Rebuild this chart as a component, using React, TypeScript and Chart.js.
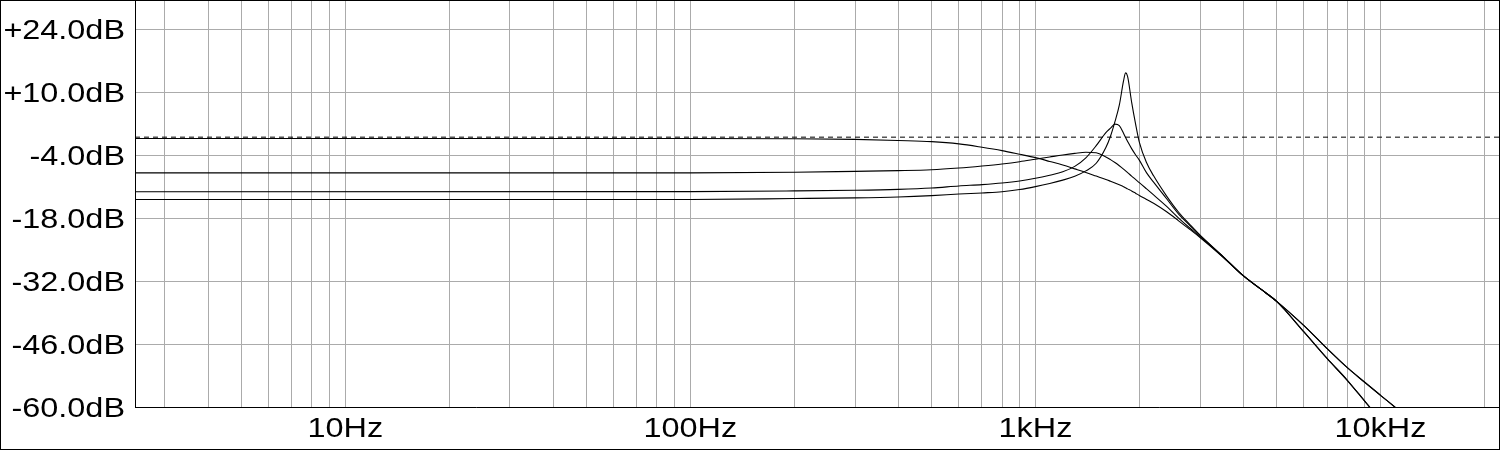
import { useEffect, useRef } from "react"
import { Chart, registerables } from "chart.js"
import type { Plugin } from "chart.js"

Chart.register(...registerables)

// plot range: log frequency (Hz) and level (dB)
const FREQ_MIN = 2.457
const FREQ_MAX = 22200
const DB_MIN = -60
const DB_MAX = 30.5

const freqs = [
  FREQ_MIN, 100, 200, 300, 400, 500, 600, 700, 800, 900, 1000, 1100, 1200, 1300, 1400, 1500, 1600, 1650, 1700,
  1750, 1800, 1825, 1850, 1900, 1950, 2000, 2100, 2200, 2400, 2600, 2800, 3000, 3500, 4000, 4500, 5000, 6000,
  7000, 8000, 9000, 10000, 11000, 12000,
]

// four responses (dB)
const curveA = [
  -0.3, -0.3, -0.35, -0.5, -0.75, -1.0, -1.5, -2.25, -3.0, -3.8, -4.55, -5.4, -6.2, -7.05, -7.85, -8.65, -9.4, -9.8,
  -10.2, -10.6, -11.0, -11.25, -11.5, -11.95, -12.45, -12.95, -13.85, -14.7, -16.6, -18.6, -20.5, -22.3, -26.7,
  -30.8, -33.8, -36.5, -41.9, -47.0, -51.2, -54.5, -57.4, -60.0, -62.4,
]
const curveB = [
  -7.95, -7.95, -7.8, -7.6, -7.45, -7.25, -6.85, -6.4, -5.95, -5.45, -4.9, -4.4, -3.95, -3.6, -3.35, -3.45, -4.4,
  -5.0, -5.65, -6.35, -7.1, -7.5, -7.9, -8.65, -9.4, -10.1, -11.5, -12.85, -15.4, -18.0, -20.2, -22.1, -26.65,
  -30.8, -33.8, -36.5, -41.9, -47.0, -51.2, -54.5, -57.4, -60.0, -62.4,
]
const curveC = [
  -12.15, -12.1, -11.95, -11.8, -11.6, -11.3, -10.85, -10.55, -10.2, -9.75, -9.15, -8.45, -7.7, -6.5, -4.6, -1.9,
  1.0, 2.0, 2.9, 2.55, 0.85, -0.1, -0.95, -2.55, -3.9, -5.1, -7.95, -10.0, -13.7, -17.1, -19.6, -21.9, -26.6,
  -30.8, -33.8, -36.5, -43.3, -49.2, -54.0, -58.7, -62.9, -66.7, -70.2,
]
const curveD = [
  -13.85, -13.85, -13.65, -13.5, -13.3, -13.0, -12.65, -12.4, -12.15, -11.65, -11.0, -10.3, -9.55, -8.7, -7.5,
  -5.8, -2.3, 0.2, 3.45, 7.1, 12.5, 14.3, 13.45, 7.8, 3.0, -1.1, -5.7, -8.6, -13.1, -16.7, -19.4, -21.8, -26.55,
  -30.8, -33.8, -36.5, -43.3, -49.2, -54.0, -58.7, -62.9, -66.7, -70.2,
]

// 0 dB reference (dashed)
const refFreqs = [FREQ_MIN, FREQ_MAX]
const refLevel = [0, 0]

const yTicks = [24, 10, -4, -18, -32, -46, -60]
const xLabelFreqs = [10, 100, 1000, 10000]
const xLabelTexts = ["10Hz", "100Hz", "1kHz", "10kHz"]

const GRID = "#ababab"
const FONT = "27px 'Liberation Sans', Arial, sans-serif"
const TEXT_STRETCH = 1.2 // labels in the original are drawn wide

function fmtDb(v: number) {
  return (v > 0 ? "+" : "") + v.toFixed(1) + "dB"
}

// grid at 1..9 of every decade inside the range
function logGridValues() {
  const out: number[] = []
  for (let dec = 1; dec <= 10000; dec *= 10) {
    for (let m = 1; m <= 9; m++) {
      const v = m * dec
      if (v > FREQ_MIN && v < FREQ_MAX) out.push(v)
    }
  }
  return out
}

const axisText: Plugin<"line"> = {
  id: "axisText",
  afterDraw(chart) {
    const { ctx, chartArea, scales } = chart
    ctx.save()
    ctx.fillStyle = "#000"
    ctx.font = FONT
    ctx.textBaseline = "alphabetic"

    ctx.textAlign = "right"
    yTicks.forEach((v) => {
      const y = scales.y.getPixelForValue(v)
      ctx.save()
      ctx.translate(chartArea.left - 10, y + 9.7)
      ctx.scale(TEXT_STRETCH, 1)
      ctx.fillText(fmtDb(v), 0, 0)
      ctx.restore()
    })

    ctx.textAlign = "center"
    xLabelFreqs.forEach((f, i) => {
      const x = scales.x.getPixelForValue(f)
      ctx.save()
      ctx.translate(x, chartArea.bottom + 30)
      ctx.scale(TEXT_STRETCH, 1)
      ctx.fillText(xLabelTexts[i], 0, 0)
      ctx.restore()
    })

    // outer frame
    ctx.strokeStyle = "#000"
    ctx.lineWidth = 1
    ctx.strokeRect(0.5, 0.5, chart.width - 1, chart.height - 1)
    ctx.restore()
  },
}

export default function App() {
  const chartRef = useRef<HTMLCanvasElement>(null)
  const chartInstance = useRef<Chart | null>(null)

  useEffect(() => {
    if (!chartRef.current) return

    if (chartInstance.current) {
      chartInstance.current.destroy()
    }

    const ctx = chartRef.current.getContext("2d")
    if (!ctx) return

    const curve = (vals: number[]) => ({
      data: vals.map((y, i) => ({ x: freqs[i], y })),
      borderColor: "#000",
      borderWidth: 1.1,
      pointRadius: 0,
      cubicInterpolationMode: "monotone" as const,
    })

    chartInstance.current = new Chart(ctx, {
      type: "line",
      data: {
        datasets: [
          {
            data: refLevel.map((y, i) => ({ x: refFreqs[i], y })),
            borderColor: "#000",
            borderWidth: 1,
            borderDash: [5, 4],
            pointRadius: 0,
          },
          curve(curveA),
          curve(curveB),
          curve(curveC),
          curve(curveD),
        ],
      },
      options: {
        animation: false,
        responsive: true,
        maintainAspectRatio: false,
        events: [],
        layout: { padding: 0 },
        plugins: {
          legend: { display: false },
          tooltip: { enabled: false },
        },
        scales: {
          x: {
            type: "logarithmic",
            min: FREQ_MIN,
            max: FREQ_MAX,
            afterBuildTicks: (scale) => {
              scale.ticks = logGridValues().map((value) => ({ value }))
            },
            afterFit: (scale) => {
              scale.height = 43
            },
            ticks: { display: false },
            grid: { color: GRID, drawTicks: false },
            border: { color: "#000", width: 1 },
          },
          y: {
            type: "linear",
            min: DB_MIN,
            max: DB_MAX,
            afterBuildTicks: (scale) => {
              scale.ticks = yTicks.map((value) => ({ value }))
            },
            afterFit: (scale) => {
              scale.width = 135
            },
            ticks: { display: false },
            grid: { color: GRID, drawTicks: false },
            border: { color: "#000", width: 1 },
          },
        },
      },
      plugins: [axisText],
    })

    return () => {
      if (chartInstance.current) {
        chartInstance.current.destroy()
      }
    }
  }, [])

  return (
    <div style={{ position: "absolute", left: 0, top: 0, width: 1500, height: 450, background: "#fff" }}>
      <canvas ref={chartRef} />
    </div>
  )
}
